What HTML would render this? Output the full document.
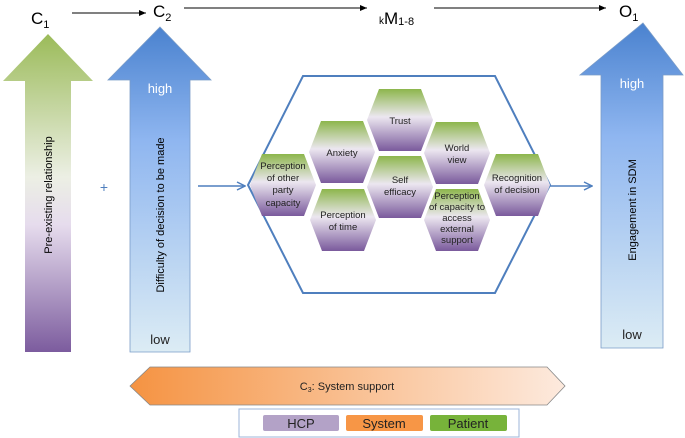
<!DOCTYPE html>
<html><head><meta charset="utf-8"><style>
html,body{margin:0;padding:0;background:#fff;}
svg{display:block;}
text{font-family:"Liberation Sans",sans-serif;}
</style></head><body>
<svg width="685" height="438" viewBox="0 0 685 438" xmlns="http://www.w3.org/2000/svg">
<defs>
<linearGradient id="gp" x1="0" y1="0" x2="0" y2="1">
<stop offset="0" stop-color="#9bbb59"/><stop offset="0.45" stop-color="#ecefe4"/><stop offset="0.6" stop-color="#e6dced"/><stop offset="1" stop-color="#7c5c9e"/>
</linearGradient>
<linearGradient id="gb" x1="0" y1="0" x2="0" y2="1">
<stop offset="0" stop-color="#4a82cf"/><stop offset="0.35" stop-color="#8fb6f0"/><stop offset="1" stop-color="#dcecf4"/>
</linearGradient>
<linearGradient id="gh" x1="0" y1="0" x2="0" y2="1">
<stop offset="0" stop-color="#8db64c"/><stop offset="0.45" stop-color="#ece7f0"/><stop offset="1" stop-color="#7a5a9c"/>
</linearGradient>
<linearGradient id="go" x1="0" y1="0" x2="1" y2="0">
<stop offset="0" stop-color="#f59342"/><stop offset="1" stop-color="#fdeade"/>
</linearGradient>
<marker id="ak" markerWidth="8" markerHeight="8" refX="7" refY="4" orient="auto" markerUnits="userSpaceOnUse"><path d="M0,1 L7,4 L0,7 z" fill="#000"/></marker>
<marker id="ab" markerWidth="10" markerHeight="10" refX="9" refY="5" orient="auto" markerUnits="userSpaceOnUse"><path d="M1,1 L9,5 L1,9" fill="none" stroke="#4f7fbe" stroke-width="1.5"/></marker>
<polygon id="hx" points="-21,-31 21,-31 33,0 21,31 -21,31 -33,0" fill="url(#gh)"/>
</defs>

<text x="31" y="24" font-size="17">C<tspan font-size="11" dy="4">1</tspan></text>
<line x1="72" y1="13" x2="146" y2="13" stroke="#000" stroke-width="1" marker-end="url(#ak)"/>
<text x="153" y="17" font-size="17">C<tspan font-size="11" dy="4">2</tspan></text>
<line x1="184" y1="8" x2="367" y2="8" stroke="#000" stroke-width="1" marker-end="url(#ak)"/>
<text x="379" y="24" font-size="17"><tspan font-size="10">k</tspan>M<tspan font-size="11" dy="1">1-8</tspan></text>
<line x1="434" y1="8" x2="606" y2="8" stroke="#000" stroke-width="1" marker-end="url(#ak)"/>
<text x="619" y="17" font-size="17">O<tspan font-size="11" dy="4">1</tspan></text>

<polygon points="48,34 93,81 71,81 71,352 25,352 25,81 3,81" fill="url(#gp)"/>
<text transform="translate(52,195) rotate(-90)" font-size="11" text-anchor="middle">Pre-existing relationship</text>

<polygon points="160,27 211,80 190,80 190,352 130,352 130,80 108,80" fill="url(#gb)" stroke="#7a9cc8" stroke-width="0.8"/>
<text x="160" y="93" font-size="13" fill="#fff" text-anchor="middle">high</text>
<text x="160" y="344" font-size="13" fill="#222" text-anchor="middle">low</text>
<text transform="translate(164,215) rotate(-90)" font-size="11" text-anchor="middle">Difficulty of decision to be made</text>

<text x="104" y="192" font-size="14" fill="#4f7fbe" text-anchor="middle">+</text>
<line x1="198" y1="186" x2="245" y2="186" stroke="#4f7fbe" stroke-width="1.5" marker-end="url(#ab)"/>

<polygon points="643,23 683,75 663,75 663,348 601,348 601,75 580,75" fill="url(#gb)" stroke="#7a9cc8" stroke-width="0.8"/>
<text x="632" y="88" font-size="13" fill="#fff" text-anchor="middle">high</text>
<text x="632" y="339" font-size="13" fill="#222" text-anchor="middle">low</text>
<text transform="translate(636,210) rotate(-90)" font-size="11" text-anchor="middle">Engagement in SDM</text>
<line x1="550" y1="186" x2="592" y2="186" stroke="#4f7fbe" stroke-width="1.5" marker-end="url(#ab)"/>

<polygon points="303,76 495,76 550,185 495,293 303,293 248,185" fill="#fff" stroke="#4f7fbe" stroke-width="2"/>

<g font-size="9.5" text-anchor="middle" fill="#222">
<use href="#hx" x="400" y="120"/><text x="400" y="124">Trust</text>
<use href="#hx" x="342" y="152"/><text x="342" y="156">Anxiety</text>
<use href="#hx" x="457" y="153"/><text x="457" y="151">World</text><text x="457" y="163">view</text>
<use href="#hx" x="283" y="185"/><text x="283" y="169">Perception</text><text x="283" y="181">of other</text><text x="283" y="193">party</text><text x="283" y="206">capacity</text>
<use href="#hx" x="400" y="187"/><text x="400" y="183">Self</text><text x="400" y="195">efficacy</text>
<use href="#hx" x="517" y="185"/><text x="517" y="181">Recognition</text><text x="517" y="193">of decision</text>
<use href="#hx" x="343" y="220"/><text x="343" y="218">Perception</text><text x="343" y="230">of time</text>
<use href="#hx" x="457" y="220"/><text x="457" y="199">Perception</text><text x="457" y="210">of capacity to</text><text x="457" y="221">access</text><text x="457" y="232">external</text><text x="457" y="243">support</text>
</g>

<polygon points="130,386 150,367 547,367 565,386 547,405 150,405" fill="url(#go)" stroke="#888" stroke-width="0.8"/>
<text x="347" y="390" font-size="11" text-anchor="middle" fill="#222">C<tspan font-size="7" dy="2">3</tspan><tspan dy="-2">: System support</tspan></text>

<rect x="239" y="409" width="280" height="28" fill="#fff" stroke="#9db4d8" stroke-width="1"/>
<rect x="263" y="415" width="76" height="16" rx="2" fill="#b3a2c7"/>
<rect x="346" y="415" width="77" height="16" rx="2" fill="#f79646"/>
<rect x="430" y="415" width="77" height="16" rx="2" fill="#77b33a"/>
<g font-size="13" text-anchor="middle" fill="#222">
<text x="301" y="428">HCP</text><text x="384" y="428">System</text><text x="468" y="428">Patient</text>
</g>
</svg>
</body></html>
